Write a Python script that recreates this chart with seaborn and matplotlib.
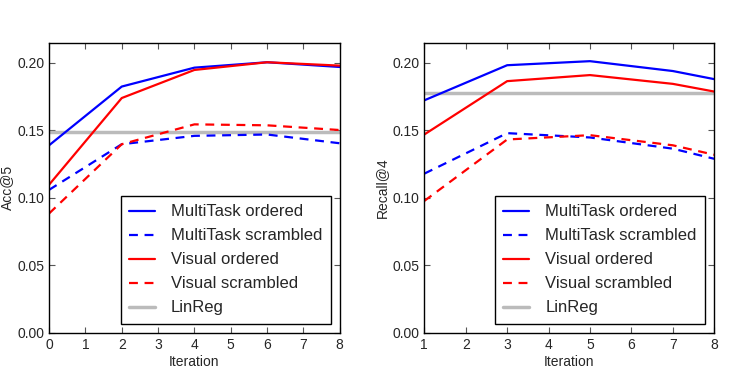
import matplotlib
matplotlib.use('Agg')
import matplotlib.pyplot as plt
import seaborn as sns
import numpy as np

# values
iter_left = [0, 2, 4, 6, 8]
acc_mt_ordered = [0.139, 0.1825, 0.1965, 0.2005, 0.197]
acc_mt_scrambled = [0.106, 0.1398, 0.146, 0.147, 0.1405]
acc_vis_ordered = [0.1098, 0.174, 0.1948, 0.2005, 0.198]
acc_vis_scrambled = [0.0885, 0.1398, 0.1545, 0.1538, 0.1503]
acc_linreg = 0.1488

iter_right = [1, 3, 5, 7, 8]
rec_mt_ordered = [0.1723, 0.1983, 0.2013, 0.194, 0.188]
rec_mt_scrambled = [0.118, 0.148, 0.1448, 0.1365, 0.129]
rec_vis_ordered = [0.147, 0.1865, 0.191, 0.1845, 0.1788]
rec_vis_scrambled = [0.0978, 0.1433, 0.1465, 0.139, 0.132]
rec_linreg = 0.1778

labels = ['MultiTask ordered', 'MultiTask scrambled', 'Visual ordered',
          'Visual scrambled', 'LinReg']

sns.set_style('ticks')
plt.rcParams['font.family'] = ['Liberation Sans', 'DejaVu Sans']
plt.rcParams['xtick.direction'] = 'in'
plt.rcParams['ytick.direction'] = 'in'
plt.rcParams['xtick.top'] = True
plt.rcParams['ytick.right'] = True

fig = plt.figure(figsize=(7.55, 3.81), dpi=100)
ax1 = fig.add_axes([0.065, 0.126, 0.385, 0.762])
ax2 = fig.add_axes([0.562, 0.126, 0.384, 0.762])


def draw(ax, xs, mo, ms, vo, vs, lin, xlim, ylabel):
    sns.lineplot(x=xs, y=mo, ax=ax, color='blue', lw=1.6, label=labels[0])
    sns.lineplot(x=xs, y=ms, ax=ax, color='blue', lw=1.6, dashes=(4, 3),
                 label=labels[1])
    sns.lineplot(x=xs, y=vo, ax=ax, color='red', lw=1.6, label=labels[2])
    sns.lineplot(x=xs, y=vs, ax=ax, color='red', lw=1.6, dashes=(4, 3),
                 label=labels[3])
    ax.axhline(lin, color='#bbbbbb', lw=2.5, label=labels[4], zorder=1)
    ax.set_xlim(*xlim)
    ax.set_ylim(0, 0.215)
    ax.set_yticks([0.0, 0.05, 0.10, 0.15, 0.20])
    ax.set_yticklabels(['0.00', '0.05', '0.10', '0.15', '0.20'])
    ax.set_xticks(range(xlim[0], xlim[1] + 1))
    ax.tick_params(labelsize=10, length=4, width=0.8, color='#555555', pad=3.5)
    ax.set_xlabel('Iteration', fontsize=10, labelpad=2)
    ax.set_ylabel(ylabel, fontsize=10, labelpad=2.5)
    for s in ax.spines.values():
        s.set_color('black')
        s.set_linewidth(1.0)
    leg = ax.legend(loc='lower right', fontsize=12, frameon=True, fancybox=False,
                    handlelength=1.56, labelspacing=0.54, borderaxespad=0.55,
                    borderpad=0.5, handletextpad=0.96)
    leg.get_frame().set_edgecolor('black')
    leg.get_frame().set_linewidth(1.0)
    leg.get_frame().set_alpha(1)


draw(ax1, iter_left, acc_mt_ordered, acc_mt_scrambled, acc_vis_ordered,
     acc_vis_scrambled, acc_linreg, (0, 8), 'Acc@5')
draw(ax2, iter_right, rec_mt_ordered, rec_mt_scrambled, rec_vis_ordered,
     rec_vis_scrambled, rec_linreg, (1, 8), 'Recall@4')

fig.savefig('out.png', dpi=100)
